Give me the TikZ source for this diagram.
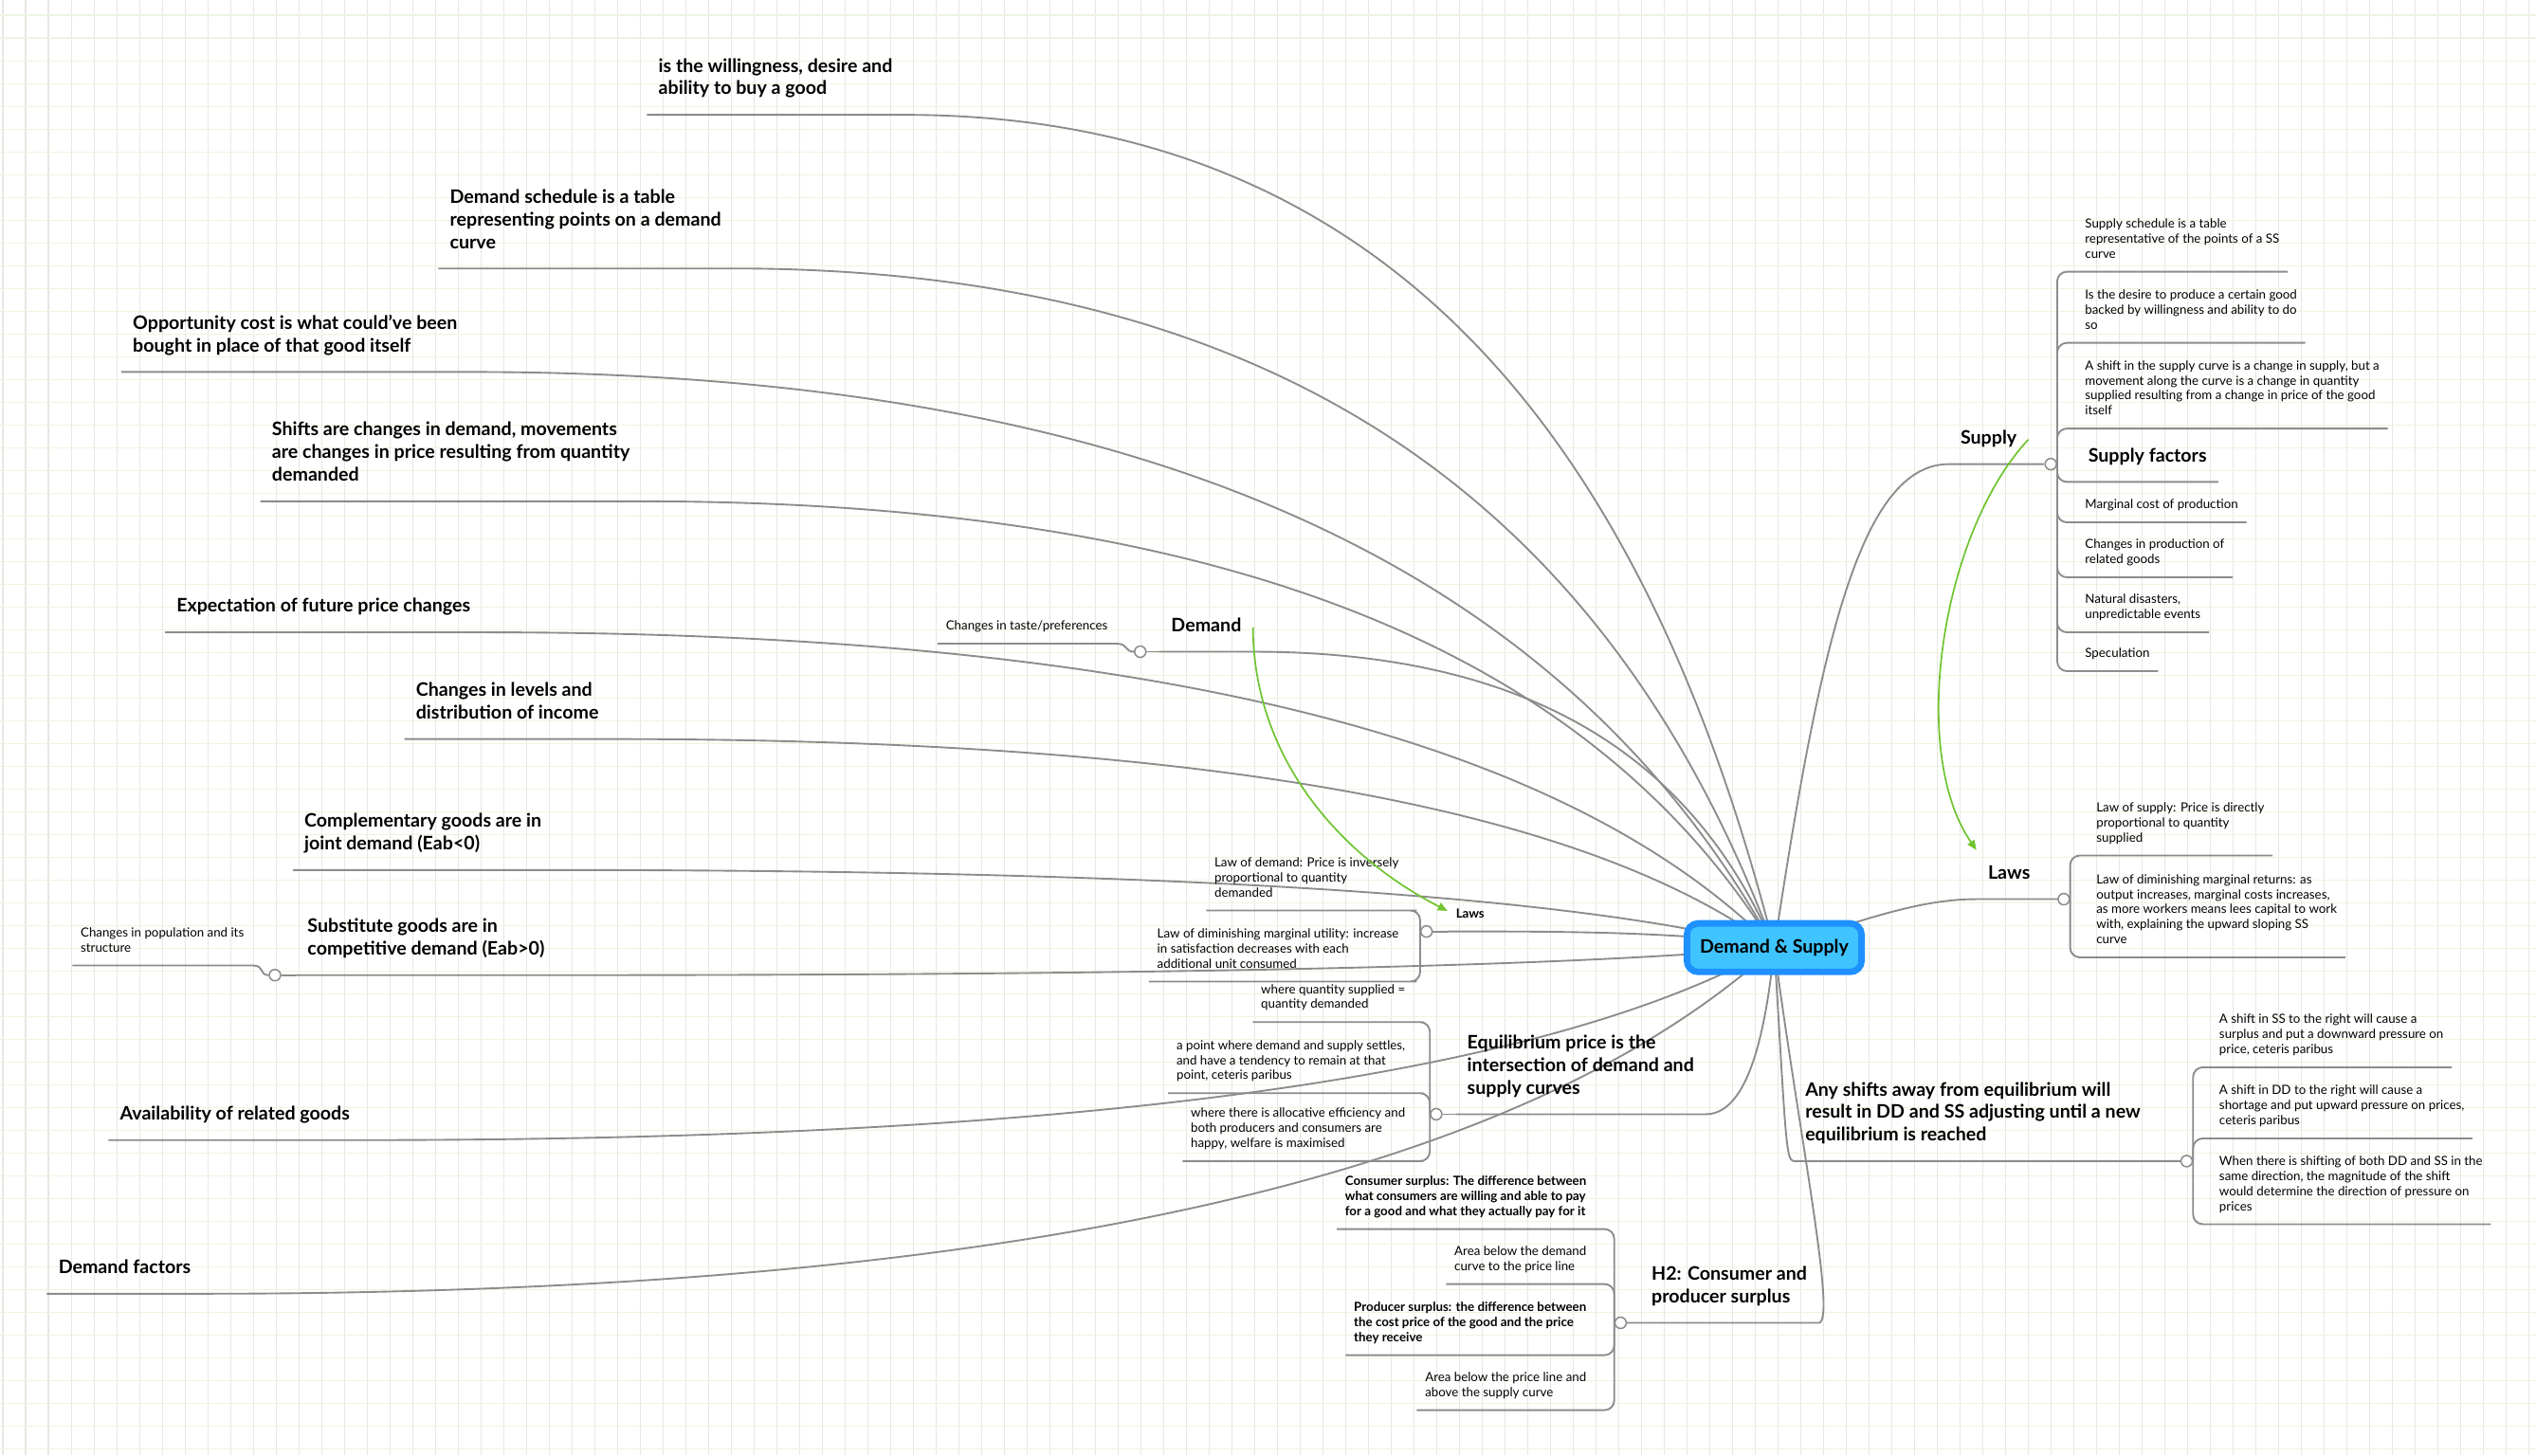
\documentclass[tikz,border=0pt]{standalone}
\usepackage{fontspec}
\setmainfont{Lato}
\usetikzlibrary{calc,arrows.meta,backgrounds}

\definecolor{linegray}{RGB}{140,140,140}
\definecolor{relgreen}{RGB}{112,196,48}
\definecolor{rootblue}{RGB}{30,144,255}
\definecolor{rootfill}{RGB}{64,196,255}
\definecolor{gridgray}{RGB}{230,232,225}
\definecolor{gridgreen}{RGB}{236,245,224}

\tikzset{
  branch/.style={draw=linegray, line width=1.1pt},
  topic/.style={font=\fontsize{11.5}{14}\selectfont\bfseries, align=left,
    inner xsep=7pt, inner ysep=8pt, execute at end node=\strut},
  leaf/.style={font=\fontsize{7.8}{9.3}\selectfont, align=left,
    inner xsep=5pt, inner ysep=5.4pt, execute at end node=\strut},
  leafb/.style={leaf, font=\fontsize{7.8}{9.3}\selectfont\bfseries},
  dot/.style={circle, draw=linegray, fill=white, line width=0.9pt,
    inner sep=0pt, minimum size=7pt},
  root/.style={draw=rootblue, line width=4pt, fill=rootfill, rounded corners=7pt,
    minimum width=108pt, minimum height=30pt, inner sep=0pt,
    font=\fontsize{11.5}{14}\selectfont\bfseries},
  rel/.style={draw=relgreen, line width=1pt, -{Triangle[length=6pt,width=5pt]}}
}

\begin{document}
\begin{tikzpicture}[x=1pt, y=-1pt]
\useasboundingbox (0,0) rectangle (1568,900);

% centre
\coordinate (dsc) at (1097,586);
\node[root] (ds) at (dsc) {Demand \& Supply};

% demand side
\node[topic, anchor=south west] (will) at (400,71) {is the willingness, desire and\\ability to buy a good};
\node[topic, anchor=south west] (sched) at (271,166) {Demand schedule is a table\\representing points on a demand\\curve};
\node[topic, anchor=south west] (oppcost) at (75,230) {Opportunity cost is what could've been\\bought in place of that good itself};
\node[topic, anchor=south west] (shifts) at (161,310) {Shifts are changes in demand, movements\\are changes in price resulting from quantity\\demanded};
\node[topic, anchor=south west] (expect) at (102,391) {Expectation of future price changes};
\node[topic, anchor=south west] (dem) at (717,403) {Demand};
\node[topic, anchor=south west] (income) at (250,457) {Changes in levels and\\distribution of income};
\node[topic, anchor=south west] (compl) at (181,538) {Complementary goods are in\\joint demand (Eab<0)};
\node[leafb, anchor=south west] (lawsL) at (895,576) {Laws};
\node[topic, anchor=south west] (sub) at (183,603) {Substitute goods are in\\competitive demand (Eab>0)};
\node[topic, anchor=south west] (eq) at (900,689) {Equilibrium price is the\\intersection of demand and\\supply curves};
\node[topic, anchor=south west] (avail) at (67,705) {Availability of related goods};
\node[topic, anchor=south west] (dfactors) at (29,800) {Demand factors};
\node[topic, anchor=south west] (h2) at (1014,818) {H2: Consumer and\\producer surplus};

\node[leaf, anchor=south east] (dem1) at (690,398) {Changes in taste/preferences};
\node[leaf, anchor=south east] (sub1) at (156,597) {Changes in population and its\\structure};
\node[leaf, anchor=south east] (ld1) at (870,563) {Law of demand: Price is inversely\\proportional to quantity\\demanded};
\node[leaf, anchor=south east] (ld2) at (870,607) {Law of diminishing marginal utility: increase\\in satisfaction decreases with each\\additional unit consumed};
\node[leaf, anchor=south east] (eq1) at (874,632) {where quantity supplied =\\quantity demanded};
\node[leaf, anchor=south east] (eq2) at (874,676) {a point where demand and supply settles,\\and have a tendency to remain at that\\point, ceteris paribus};
\node[leaf, anchor=south east] (eq3) at (874,718) {where there is allocative efficiency and\\both producers and consumers are\\happy, welfare is maximised};
\node[leafb, anchor=south east] (h21) at (986,760) {Consumer surplus: The difference between\\what consumers are willing and able to pay\\for a good and what they actually pay for it};
\node[leaf, anchor=south east] (h22) at (986,794) {Area below the demand\\curve to the price line};
\node[leafb, anchor=south east] (h23) at (986,838) {Producer surplus: the difference between\\the cost price of the good and the price\\they receive};
\node[leaf, anchor=south east] (h24) at (986,872) {Area below the price line and\\above the supply curve};

% supply side
\node[topic, anchor=south west] (sup) at (1205,287) {Supply};
\node[topic, anchor=south west] (lawsR) at (1222,556) {Laws};
\node[topic, anchor=south west] (shift) at (1109,718) {Any shifts away from equilibrium will\\result in DD and SS adjusting until a new\\equilibrium is reached};

\node[leaf, anchor=south west] (s1) at (1284,168) {Supply schedule is a table\\representative of the points of a SS\\curve};
\node[leaf, anchor=south west] (s2) at (1284,212) {Is the desire to produce a certain good\\backed by willingness and ability to do\\so};
\node[leaf, anchor=south west] (s3) at (1284,265) {A shift in the supply curve is a change in supply, but a\\movement along the curve is a change in quantity\\supplied resulting from a change in price of the good\\itself};
\node[topic, anchor=south west] (s4) at (1284,298) {Supply factors};
\node[leaf, anchor=south west] (s5) at (1284,323) {Marginal cost of production};
\node[leaf, anchor=south west] (s6) at (1284,357) {Changes in production of\\related goods};
\node[leaf, anchor=south west] (s7) at (1284,391) {Natural disasters,\\unpredictable events};
\node[leaf, anchor=south west] (s8) at (1284,415) {Speculation};
\node[leaf, anchor=south west] (ls1) at (1291,529) {Law of supply: Price is directly\\proportional to quantity\\supplied};
\node[leaf, anchor=south west] (ls2) at (1291,592) {Law of diminishing marginal returns: as\\output increases, marginal costs increases,\\as more workers means lees capital to work\\with, explaining the upward sloping SS\\curve};
\node[leaf, anchor=south west] (sh1) at (1367,660) {A shift in SS to the right will cause a\\surplus and put a downward pressure on\\price, ceteris paribus};
\node[leaf, anchor=south west] (sh2) at (1367,704) {A shift in DD to the right will cause a\\shortage and put upward pressure on prices,\\ceteris paribus};
\node[leaf, anchor=south west] (sh3) at (1367,757) {When there is shifting of both DD and SS in the\\same direction, the magnitude of the shift\\would determine the direction of pressure on\\prices};

% branch points
\node[dot] (dem-dot) at (705,403) {};
\node[dot] (lawsL-dot) at (882,576) {};
\node[dot] (sub-dot) at (170,603) {};
\node[dot] (eq-dot) at (888,689) {};
\node[dot] (h2-dot) at (1002,818) {};
\node[dot] (sup-dot) at (1268,287) {};
\node[dot] (lawsR-dot) at (1276,556) {};
\node[dot] (shift-dot) at (1352,718) {};

\begin{pgfonlayer}{background}
\fill[white] (0,0) rectangle (1568,900);
\foreach \i in {0,...,111}
  \draw[gridgray, line width=0.6pt] ({1.76+14.07*\i},0) -- ++(0,900);
\foreach \j in {0,...,63}
  \draw[gridgreen, line width=0.6pt] (0,{9.38+14.07*\j}) -- ++(1568,0);

% main branches
\foreach \n in {will,sched,oppcost,shifts,expect,dem,income,compl,lawsL,sub,eq,avail,dfactors}
  \draw[branch] (dsc) .. controls ($(dsc)!0.55!(dsc |- \n.south east)!0.15!(\n.south east)$)
    and ($(\n.south east)!0.55!(\n.south east -| dsc)$) .. (\n.south east) -- (\n.south west);
\foreach \n in {dem,lawsL,sub,eq}
  \draw[branch] (\n.south west) -- (\n-dot);
\draw[branch] (dsc) .. controls (1112,700) and (1136,818) .. (h2.south east) -- (h2-dot);
\draw[branch] (dsc) .. controls (1125,400) and (1150,287) .. (sup.south west) -- (sup-dot);
\draw[branch] (dsc) .. controls (1150,570) and (1185,556) .. (lawsR.south west) -- (lawsR-dot);
\draw[branch] (dsc) .. controls (1104,700) and (1104,718) .. (shift.south west) -- (shift-dot);

% sub branches
\draw[branch] (dem-dot.west) .. controls +(-6,0) and +(8,0) .. (dem1.south east) -- (dem1.south west);
\draw[branch] (sub-dot.west) .. controls +(-6,0) and +(8,0) .. (sub1.south east) -- (sub1.south west);
\foreach \n in {ld1,ld2}
  \draw[branch, rounded corners=6pt] (lawsL-dot.west) |- (\n.south east) -- (\n.south west);
\foreach \n in {eq1,eq2,eq3}
  \draw[branch, rounded corners=6pt] (eq-dot.west) |- (\n.south east) -- (\n.south west);
\foreach \n in {h21,h22,h23,h24}
  \draw[branch, rounded corners=6pt] (h2-dot.west) |- (\n.south east) -- (\n.south west);
\foreach \i in {1,...,8}
  \draw[branch, rounded corners=6pt] (sup-dot.east) |- (s\i.south west) -- (s\i.south east);
\foreach \n in {ls1,ls2}
  \draw[branch, rounded corners=6pt] (lawsR-dot.east) |- (\n.south west) -- (\n.south east);
\foreach \n in {sh1,sh2,sh3}
  \draw[branch, rounded corners=6pt] (shift-dot.east) |- (\n.south west) -- (\n.south east);
\end{pgfonlayer}

% relationships
\draw[rel] (dem.east) .. controls (775,470) and (830,530) .. (lawsL.170);
\draw[rel] (sup.east) .. controls (1200,330) and (1180,465) .. (lawsR.north west);
\end{tikzpicture}
\end{document}
